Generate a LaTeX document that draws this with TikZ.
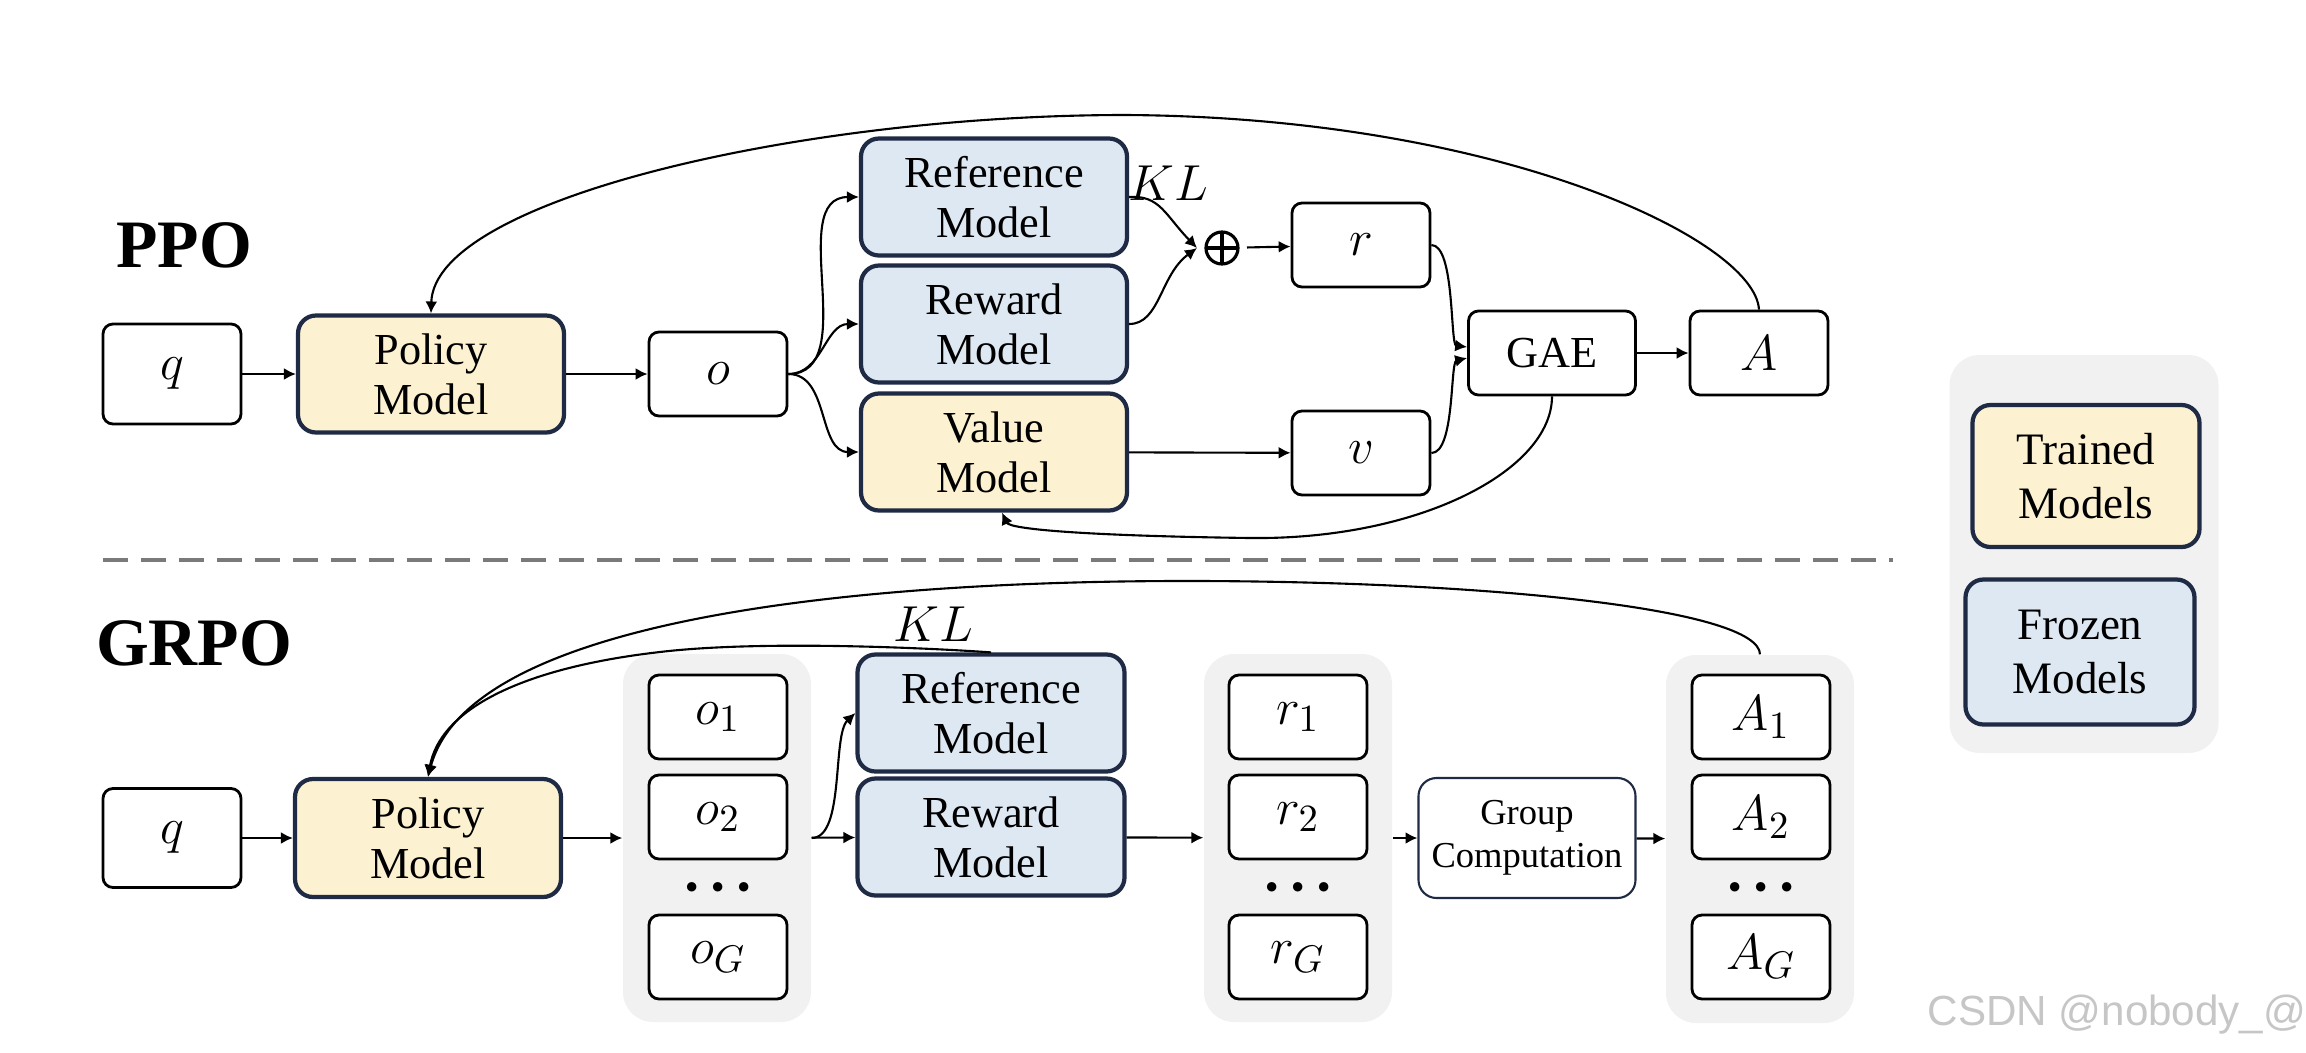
\documentclass[tikz,border=0pt]{standalone}
\usepackage{fontspec}
\setmainfont{Liberation Serif}
\setsansfont{Liberation Sans}
\usepackage{amsmath}
\usepackage{bm}
\usepackage{tikz}
\usetikzlibrary{arrows.meta}
\definecolor{navy}{HTML}{1F2A44}
\definecolor{trained}{HTML}{FCF2D2}
\definecolor{frozen}{HTML}{DEE8F3}
\definecolor{panel}{HTML}{F1F1F1}
\definecolor{sep}{HTML}{7A7A7A}

\begin{document}
\begin{tikzpicture}[x=0.1mm, y=-0.1mm,
	every node/.style={font=\fontsize{12.6}{14.2}\selectfont, align=center, inner sep=0pt},
	var/.style={draw, rounded corners=1mm, line width=0.8pt, fill=white, minimum width=13.8mm, minimum height=8.4mm, font=\fontsize{15}{16}\selectfont},
	model/.style={draw=navy, rounded corners=1.8mm, line width=1.2pt, minimum width=26.6mm, minimum height=11.7mm},
	grp/.style={fill=panel, rounded corners=3mm, minimum width=18.8mm, minimum height=36.8mm},
	title/.style={font=\bfseries\fontsize{19.3}{20}\selectfont},
	sum/.style={circle, draw, line width=0.9pt, minimum size=3.2mm, outer sep=0.9mm,
		path picture={\draw[line width=0.9pt] (path picture bounding box.north) -- (path picture bounding box.south)
			(path picture bounding box.west) -- (path picture bounding box.east);}},
	link/.style={-{Latex[length=3.4pt,width=3.4pt]}, line width=0.6pt}]
	\useasboundingbox (0,0) rectangle (2306,1052);
	\node[grp] (opan) at (717,838) {};
	\node[grp] (rpan) at (1298,838) {};
	\node[grp] (apan) at (1760,839) {};
	\node[grp, minimum width=26.9mm, minimum height=39.8mm] (leg) at (2084,554) {};

	\node[title] (ppo) at (184,245) {PPO};
	\node[var, minimum height=10mm] (q1) at (172,374) {$q$};
	\node[model, fill=trained] (pol1) at (431,374) {Policy\\Model};
	\node[var] (o) at (718,374) {$o$};
	\node[model, fill=frozen] (ref1) at (994,197) {Reference\\Model};
	\node[model, fill=frozen] (rew1) at (994,324) {Reward\\Model};
	\node[model, fill=trained] (val1) at (994,452) {Value\\Model};
	\node[font=\fontsize{14.5}{15}\selectfont] (kl1) at (1168,183) {$KL$};
	\node[sum] (plus) at (1222,248) {};
	\node[var] (r) at (1361,245) {$r$};
	\node[var] (v) at (1361,453) {$v$};
	\node[var, minimum width=16.7mm, font=\fontsize{12.6}{14.2}\selectfont] (gae) at (1552,353) {GAE};
	\node[var] (A) at (1759,353) {$A$};

	\node[model, fill=trained, minimum width=22.7mm, minimum height=14.2mm, font=\fontsize{12.8}{15.3}\selectfont] (tr) at (2086,476) {Trained\\Models};
	\node[model, fill=frozen, minimum width=22.9mm, minimum height=14.5mm, font=\fontsize{12.8}{15.3}\selectfont] (fr) at (2080,652) {Frozen\\Models};

	\draw[sep, line width=1.4pt, dash pattern=on 2.5mm off 1.3mm] (103,560) -- (1893,560);

	\node[title] (grpo) at (194,643) {GRPO};
	\node[var, minimum height=9.9mm] (q2) at (172,838) {$q$};
	\node[model, fill=trained, minimum height=11.8mm] (pol2) at (428,838) {Policy\\Model};
	\foreach \sym/\xx in {o/718, r/1298, A/1761} {
		\node[var] (\sym1) at (\xx,717) {$\sym_1$};
		\node[var] (\sym2) at (\xx,817) {$\sym_2$};
		\node[font=\fontsize{19}{19}\selectfont] (\sym d) at (\xx,888) {$\bm{\cdot}\mkern-2mu\bm{\cdot}\mkern-2mu\bm{\cdot}$};
		\node[var] (\sym G) at (\xx,957) {$\sym_G$};
	}
	\node[model, fill=frozen, minimum width=26.7mm] (ref2) at (991,713) {Reference\\Model};
	\node[model, fill=frozen, minimum width=26.7mm] (rew2) at (991,837) {Reward\\Model};
	\node[font=\fontsize{14.5}{15}\selectfont] (kl2) at (933,624) {$KL$};
	\node[var, draw=navy, line width=0.6pt, rounded corners=1.8mm, minimum width=21.7mm, minimum height=12mm, font=\fontsize{10.4}{12.2}\selectfont] (grp) at (1527,838) {Group\\Computation};

	\node[text=gray!45, font=\sffamily\fontsize{12}{12}\selectfont] (wm) at (2117,1015) {CSDN @nobody\_@};

	\draw[link] (q1) -- (pol1);
	\draw[link] (pol1) -- (o);
	\draw[link] (o.east) to[out=0,in=180] (ref1.west);
	\draw[link] (o.east) to[out=0,in=180] (rew1.west);
	\draw[link] (o.east) to[out=0,in=180] (val1.west);
	\draw[link] (ref1.east) .. controls (1160,195) and (1165,215) .. (plus.west);
	\draw[link] (rew1.east) .. controls (1160,324) and (1160,275) .. (plus.west);
	\draw[link] (plus) -- (r);
	\draw[link] (val1) -- (v);
	\draw[link] (r.east) .. controls (1455,245) and (1450,345) .. ([yshift=0.6mm]gae.west);
	\draw[link] (v.east) .. controls (1455,453) and (1450,362) .. ([yshift=-0.5mm]gae.west);
	\draw[link] (gae) -- (A);
	\draw[link] (A.north) .. controls (1755,240) and (1500,117) .. (1125,115) .. controls (800,115) and (434,200) .. (pol1.north);
	\draw[link] (gae.south) .. controls (1552,470) and (1420,540) .. (1250,538) .. controls (1100,536) and (1010,530) .. ([xshift=0.8mm]val1.south);

	\draw[link] (q2) -- (pol2);
	\draw[link] (pol2) -- (opan);
	\draw[link] (opan) -- (rew2);
	\draw[link] (opan.east) .. controls (845,838) and (832,735) .. (ref2.west);
	\draw[link] (rew2) -- (rpan);
	\draw[link] (rpan) -- (grp);
	\draw[link] (grp) -- (apan);
	\draw[link] (ref2.north) .. controls (930,648) and (760,640) .. (660,652) .. controls (520,668) and (440,710) .. (pol2.north);
	\draw[link] (apan.north) .. controls (1759,610) and (1500,582) .. (1200,581) .. controls (850,580) and (470,620) .. (pol2.north);
\end{tikzpicture}
\end{document}
